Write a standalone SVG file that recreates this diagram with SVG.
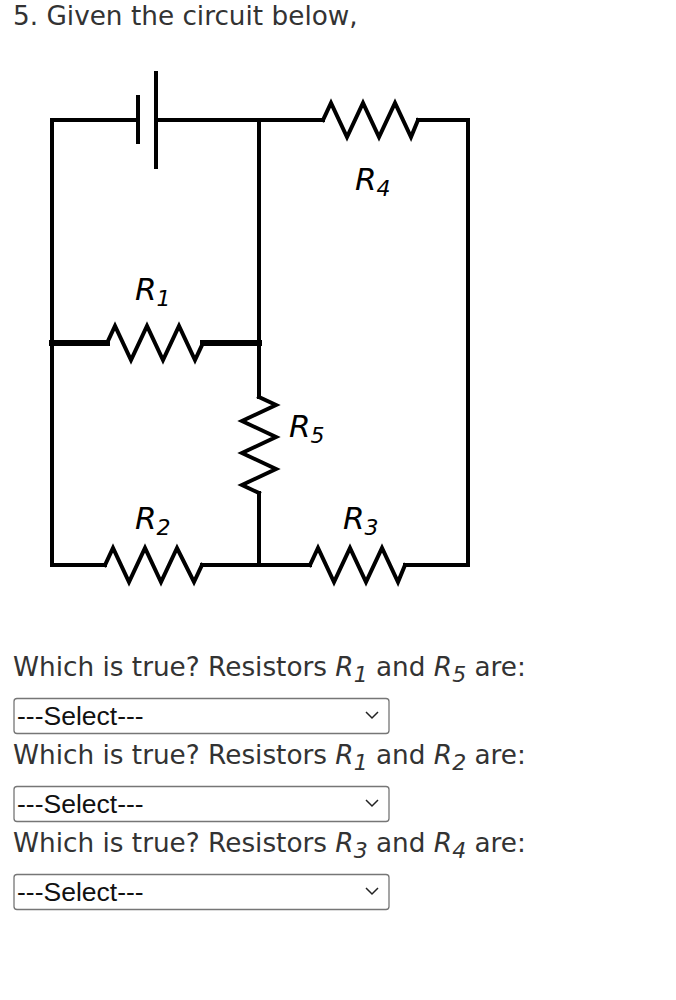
<svg xmlns="http://www.w3.org/2000/svg" width="676" height="1000" viewBox="0 0 676 1000">
<style>
.w{fill:none;stroke:#000;stroke-width:4;stroke-linejoin:miter;stroke-linecap:square}
.lbl{font-family:"DejaVu Sans",sans-serif;font-style:italic;font-size:31px;fill:#000}
.sub{font-size:22px}
.q{font-family:"DejaVu Sans",sans-serif;font-size:26.3px;fill:#333}
.sel{fill:#fff;stroke:#767676;stroke-width:1.3}
.st{font-family:"Liberation Sans",Arial,sans-serif;font-size:26.5px;fill:#111}
.chev{fill:none;stroke:#222;stroke-width:1.5}
</style>
<rect width="676" height="1000" fill="#fff"/>
<text class="q" x="13" y="25">5. Given the circuit below,</text>
<g id="wires" class="w">
<path d="M138,120 H52 V565 H105"/>
<path d="M156,120 H323"/>
<path d="M418,120 H468 V565 H405"/>
<path d="M259,120 V397"/>
<path d="M259,493 V565"/>
<path d="M202,565 H310"/>
<path d="M52,343 H107" stroke-width="6"/>
<path d="M203,343 H259" stroke-width="6"/>
</g>
<g id="battery" class="w">
<line x1="138" y1="97" x2="138" y2="142"/>
<line x1="156" y1="73" x2="156" y2="167"/>
</g>
<g id="R4"><path class="w" d="M323,120 L331,103 L347,137 L363,103 L379,137 L395,103 L411,137 L418,120"/><text class="lbl" x="355" y="190">R<tspan class="sub" dy="6">4</tspan></text></g>
<g id="R1"><path class="w" d="M107,343 L115,326 L131,360 L147,326 L163,360 L179,326 L195,360 L203,343"/><text class="lbl" x="135" y="300">R<tspan class="sub" dy="6">1</tspan></text></g>
<g id="R5"><path class="w" d="M259,397 L276,405 L242,421 L276,437 L242,453 L276,469 L242,485 L259,493"/><text class="lbl" x="289" y="437">R<tspan class="sub" dy="6">5</tspan></text></g>
<g id="R2"><path class="w" d="M105,565 L113,548 L129,582 L145,548 L161,582 L177,548 L194,582 L202,565"/><text class="lbl" x="135" y="529">R<tspan class="sub" dy="6">2</tspan></text></g>
<g id="R3"><path class="w" d="M310,565 L318,548 L334,582 L350,548 L366,582 L382,548 L398,582 L405,565"/><text class="lbl" x="343" y="529">R<tspan class="sub" dy="6">3</tspan></text></g>
<g id="q1"><text class="q" x="13" y="676">Which is true? Resistors <tspan font-style="italic">R</tspan><tspan font-style="italic" font-size="22" dy="6">1</tspan><tspan dy="-6"> and </tspan><tspan font-style="italic">R</tspan><tspan font-style="italic" font-size="22" dy="6">5</tspan><tspan dy="-6"> are:</tspan></text>
<rect class="sel" x="14" y="698.5" width="375" height="35" rx="3"/><text class="st" x="17" y="725">---Select---</text><path class="chev" d="M366,712 L372,718 L378,712"/></g>
<g id="q2"><text class="q" x="13" y="764">Which is true? Resistors <tspan font-style="italic">R</tspan><tspan font-style="italic" font-size="22" dy="6">1</tspan><tspan dy="-6"> and </tspan><tspan font-style="italic">R</tspan><tspan font-style="italic" font-size="22" dy="6">2</tspan><tspan dy="-6"> are:</tspan></text>
<rect class="sel" x="14" y="786.5" width="375" height="35" rx="3"/><text class="st" x="17" y="813">---Select---</text><path class="chev" d="M366,800 L372,806 L378,800"/></g>
<g id="q3"><text class="q" x="13" y="852">Which is true? Resistors <tspan font-style="italic">R</tspan><tspan font-style="italic" font-size="22" dy="6">3</tspan><tspan dy="-6"> and </tspan><tspan font-style="italic">R</tspan><tspan font-style="italic" font-size="22" dy="6">4</tspan><tspan dy="-6"> are:</tspan></text>
<rect class="sel" x="14" y="874.5" width="375" height="35" rx="3"/><text class="st" x="17" y="901">---Select---</text><path class="chev" d="M366,888 L372,894 L378,888"/></g>
</svg>
